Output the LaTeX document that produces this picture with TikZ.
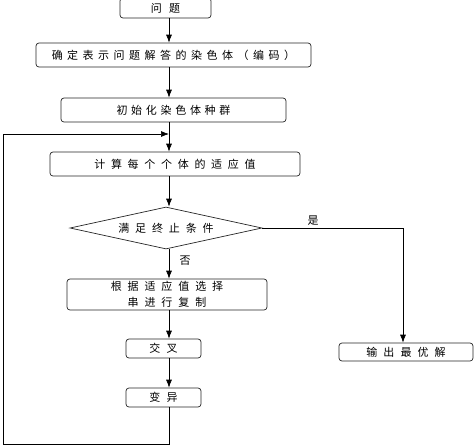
\documentclass[tikz,border=0pt]{standalone}
\usepackage{fontspec}
\newfontfamily\cjk{Noto Sans CJK SC}
\usetikzlibrary{shapes.geometric,arrows.meta}
\newcommand\spaced[2]{\def\cjkgap{#1}\spacedfirst#2\relax}
\def\spacedfirst#1{#1\spacedrest}
\def\spacedrest#1{\ifx#1\relax\else\hskip\cjkgap #1\expandafter\spacedrest\fi}
\begin{document}
\begin{tikzpicture}[x=1pt,y=-1pt,
  stepbox/.style={draw=black!85, line width=0.7pt, rounded corners=3pt, inner sep=0pt,
    font=\cjk\fontsize{11}{16}\selectfont, align=center},
  condbox/.style={draw=black!85, line width=0.7pt, diamond, aspect=4.57, inner sep=0pt,
    font=\cjk\fontsize{11}{16}\selectfont},
  arr/.style={-{Latex[length=8pt,width=6pt]}, line width=0.7pt},
  lbl/.style={font=\cjk\fontsize{11}{13}\selectfont, inner sep=0pt}]
\useasboundingbox (0,0) rectangle (474,445);
\clip (0,0) rectangle (474,445);
\fill[white] (0,0) rectangle (474,445);
\coordinate (spine) at (169,0);
\coordinate (yc) at (403,0);
\node[stepbox, minimum width=91pt, minimum height=20pt] (q) at (165.5,8) {\spaced{7.5pt}{问题}};
\node[stepbox, minimum width=275pt, minimum height=24pt] (enc) at (173.5,55) {\spaced{4.5pt}{确定表示问题解答的染色体（编码）}};
\node[stepbox, minimum width=225pt, minimum height=24pt] (init) at (173.5,110) {\spaced{3.7pt}{初始化染色体种群}};
\node[stepbox, minimum width=250pt, minimum height=24pt] (fit) at (175,164) {\spaced{5.7pt}{计算每个个体的适应值}};
\node[condbox, minimum width=192pt, minimum height=42pt] (cond) at (166,228) {\spaced{5.9pt}{满足终止条件}};
\node[stepbox, minimum width=200pt, minimum height=31pt] (sel) at (167,294.5) {\spaced{5.9pt}{根据适应值选择}\\\spaced{5.9pt}{串进行复制}};
\node[stepbox, minimum width=75pt, minimum height=19pt] (cross) at (163.5,348.5) {\spaced{6.5pt}{交叉}};
\node[stepbox, minimum width=75pt, minimum height=19pt] (mut) at (163.5,397.5) {\spaced{6.5pt}{变异}};
\node[stepbox, minimum width=134pt, minimum height=18pt] (out) at (406,352) {\spaced{6.1pt}{输出最优解}};
\node[lbl] (yes) at (313,221) {是};
\node[lbl] (no) at (185,261) {否};
\draw[arr] (q.south -| spine) -- (enc.north -| spine);
\draw[arr] (enc.south -| spine) -- (init.north -| spine);
\draw[arr] (init.south -| spine) -- (fit.north -| spine);
\draw[arr] (fit.south -| spine) -- (cond.north -| spine);
\draw[arr] (cond.south -| spine) -- (sel.north -| spine);
\draw[arr] (sel.south -| spine) -- (cross.north -| spine);
\draw[arr] (cross.south -| spine) -- (mut.north -| spine);
\draw[arr] (cond.east) -- (cond.east -| yc) -- (out.north -| yc);
\coordinate (fbB) at (169,444);
\coordinate (fbL) at (3,444);
\coordinate (fbT) at (3,134);
\coordinate (fbE) at (169,134);
\draw[arr] (mut.south -| spine) -- (fbB) -- (fbL) -- (fbT) -- (fbE);
\end{tikzpicture}
\end{document}
